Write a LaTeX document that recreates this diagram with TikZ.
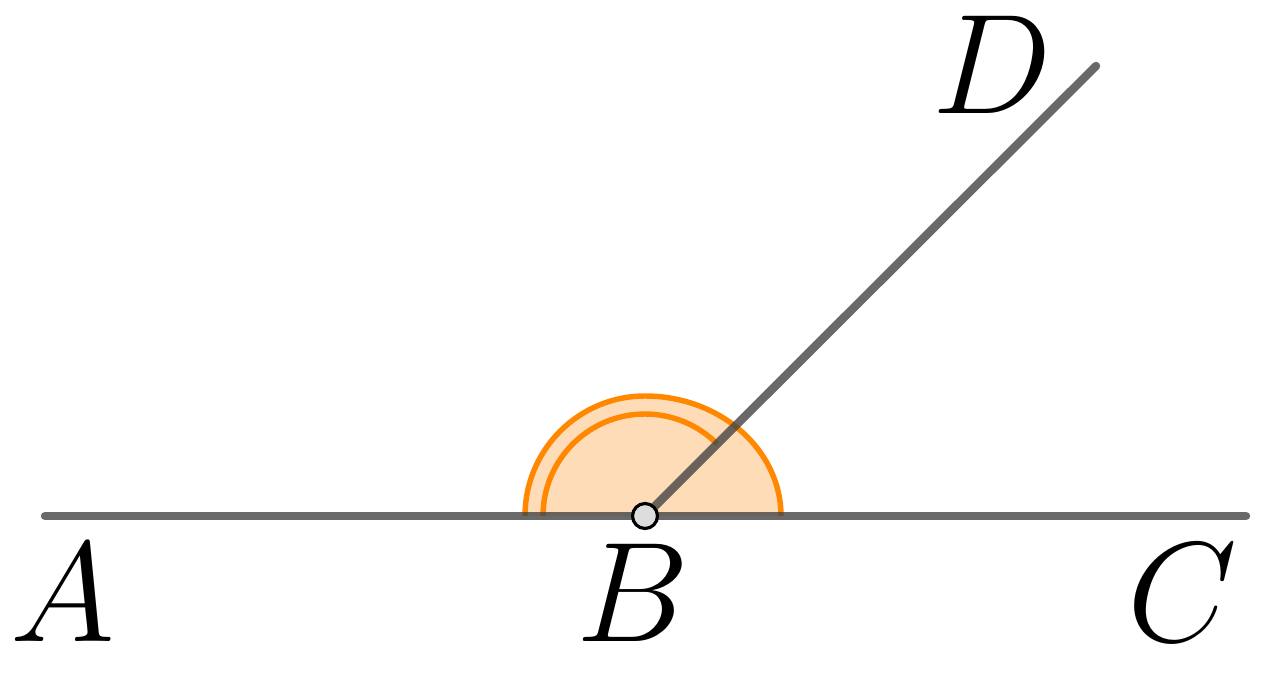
\RequirePackage{fix-cm}
\documentclass[tikz,border=0pt]{standalone}
\definecolor{segline}{HTML}{444444}
\definecolor{arcline}{HTML}{FF8800}
\definecolor{arcfill}{HTML}{FFDCB8}
\definecolor{dotfill}{HTML}{DDDDDD}
\begin{document}
\begin{tikzpicture}[x=0.02cm,y=0.02cm,
seg/.style={draw=segline,draw opacity=0.8,line width=4.8pt,line cap=round},
anglearc/.style={draw=arcline,line width=3.1pt},
lbl/.style={font=\fontsize{81}{92}\selectfont,anchor=base}]
\useasboundingbox (0,0) rectangle (1280,674);
\path
(45,158) coordinate (a)
(645,158) coordinate (B)
(1246,158) coordinate (c)
(1096,608) coordinate (d);
\path
(63,33) node[lbl](A){$A$}
(633,33) node[lbl](Bl){$B$}
(1182,33) node[lbl](C){$C$}
(992,561) node[lbl](D){$D$};
\fill[arcfill] (B) -- ++(-120,0) arc[start angle=180,end angle=90,radius=120]
arc[start angle=90,end angle=0,x radius=136,y radius=120] -- cycle;
\path[anglearc] (B) ++(-120,0) arc[start angle=180,end angle=90,radius=120]
arc[start angle=90,end angle=0,x radius=136,y radius=120];
\path[anglearc] (B) ++(-102,0) arc[start angle=180,end angle=45,radius=102];
\path[seg] (a)--(B);
\path[seg] (B)--(c);
\path[seg] (B)--(d);
\node[circle,draw,line width=1.8pt,fill=dotfill,inner sep=0pt,minimum size=0.5cm] (b) at (B) {};
\end{tikzpicture}
\end{document}
